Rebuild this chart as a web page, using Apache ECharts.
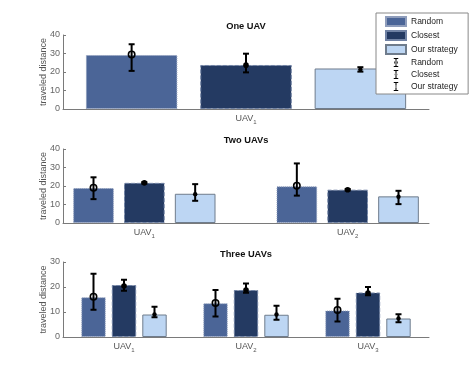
<!DOCTYPE html>
<html><head><meta charset="utf-8">
<script src="https://cdn.jsdelivr.net/npm/echarts@6/dist/echarts.min.js"></script>
<style>html,body{margin:0;padding:0;background:#fff}#c{width:474px;height:379px}</style>
</head><body><div id="c"></div>
<script>
// ---- data ----
const panelTitles = ['One UAV', 'Two UAVs', 'Three UAVs'];
const strategies = ['Random', 'Closest', 'Our strategy'];
const catBase = 'UAV';
const catSubs = ['1', '2', '3'];
const yMax = [40, 40, 30];
const yTicks = [[0, 10, 20, 30, 40], [0, 10, 20, 30, 40], [0, 10, 20, 30]];

const p1Random = [29.2];
const p1Closest = [23.8];
const p1Ours = [21.9];
const p1RandomErr = [[29.5, 20.6, 35.0]];   // [mean, low, high]
const p1ClosestErr = [[23.7, 19.8, 29.9]];
const p1OursErr = [[21.3, 20.2, 22.6]];

const p2Random = [18.9, 19.8];
const p2Closest = [21.7, 18.0];
const p2Ours = [15.8, 14.4];
const p2RandomErr = [[19.1, 12.9, 24.7], [20.2, 14.8, 32.2]];
const p2ClosestErr = [[21.7, 21.3, 22.1], [18.0, 17.6, 18.4]];
const p2OursErr = [[15.6, 12.0, 21.0], [14.2, 10.2, 17.4]];

const p3Random = [15.9, 13.5, 10.6];
const p3Closest = [20.8, 18.8, 17.8];
const p3Ours = [9.0, 8.9, 7.4];
const p3RandomErr = [[16.1, 10.9, 25.3], [13.6, 8.2, 18.8], [10.8, 6.2, 15.3]];
const p3ClosestErr = [[20.4, 18.5, 22.9], [18.8, 17.7, 21.4], [17.6, 16.7, 20.0]];
const p3OursErr = [[9.0, 7.9, 12.1], [9.0, 6.9, 12.5], [7.4, 5.9, 9.1]];

const panelBars = [[p1Random, p1Closest, p1Ours], [p2Random, p2Closest, p2Ours], [p3Random, p3Closest, p3Ours]];
const panelErrs = [[p1RandomErr, p1ClosestErr, p1OursErr], [p2RandomErr, p2ClosestErr, p2OursErr], [p3RandomErr, p3ClosestErr, p3OursErr]];

// ---- layout / style ----
const gridLeft = 63, gridWidth = 366;
const gridTops = [35, 149, 262];
const gridHeights = [74, 74, 75];
const titleTops = [22, 136, 250];
const xRanges = [[0.6, 1.4], [0.6, 2.4], [0.5, 3.5]];
const barColors = ['#4b6597', '#243a62', '#bdd6f3'];
const barBorders = [
  { borderColor: '#8f9dbb', borderWidth: 1, borderType: 'dotted' },
  { borderColor: '#7082a4', borderWidth: 1, borderType: 'dashed' },
  { borderColor: '#6f7c8c', borderWidth: 1, borderType: 'solid' }
];
const STEP = 0.25, WIDTH = 0.2;

function errRender(offsetUnits, markerType) {
  return function (params, api) {
    const x = api.value(0) + offsetUnits;
    const m = api.coord([x, api.value(1)]);
    const lo = api.coord([x, api.value(2)]);
    const hi = api.coord([x, api.value(3)]);
    const cx = m[0];
    const st = { stroke: '#000', lineWidth: 2 };
    const ch = [
      { type: 'line', shape: { x1: cx, y1: lo[1], x2: cx, y2: hi[1] }, style: st },
      { type: 'line', shape: { x1: cx - 3, y1: lo[1], x2: cx + 3, y2: lo[1] }, style: st },
      { type: 'line', shape: { x1: cx - 3, y1: hi[1], x2: cx + 3, y2: hi[1] }, style: st }
    ];
    if (markerType === 0) ch.push({ type: 'circle', shape: { cx: cx, cy: m[1], r: 3.2 }, style: { fill: 'none', stroke: '#000', lineWidth: 1.6 } });
    else if (markerType === 1) ch.push({ type: 'circle', shape: { cx: cx, cy: m[1], r: 2.8 }, style: { fill: '#000' } });
    else ch.push({ type: 'circle', shape: { cx: cx, cy: m[1], r: 2.2 }, style: { fill: '#000' } });
    return { type: 'group', children: ch };
  };
}

const grids = [], xAxes = [], yAxes = [], series = [], titles = [];
for (let p = 0; p < 3; p++) {
  grids.push({ left: gridLeft, width: gridWidth, top: gridTops[p], height: gridHeights[p] });
  const nCat = panelBars[p][0].length;
  const xs = [];
  for (let i = 0; i < nCat; i++) xs.push(i + 1);
  xAxes.push({
    type: 'value', gridIndex: p, min: xRanges[p][0], max: xRanges[p][1],
    splitLine: { show: false },
    axisLine: { show: true, lineStyle: { color: '#7a7a7a', width: 1 } },
    axisTick: { show: false },
    axisLabel: {
      customValues: xs, margin: 4, color: '#555', fontSize: 9, fontFamily: 'Liberation Sans',
      formatter: function (v) { return catBase + '{s|' + catSubs[Math.round(v) - 1] + '}'; },
      rich: { s: { fontSize: 6, color: '#555', fontFamily: 'Liberation Sans', padding: [6, 0, 0, 0] } }
    }
  });
  yAxes.push({
    type: 'value', gridIndex: p, min: 0, max: yMax[p], interval: 10,
    name: 'traveled distance', nameLocation: 'middle', nameGap: 15, nameMoveOverlap: false,
    nameTextStyle: { fontSize: 9, color: '#555', fontFamily: 'Liberation Sans' },
    splitLine: { show: false },
    axisLine: { show: true, lineStyle: { color: '#7a7a7a', width: 1 } },
    axisTick: { show: true, inside: true, length: 3, lineStyle: { color: '#7a7a7a' } },
    axisLabel: { color: '#666', fontSize: 9, margin: 3, fontFamily: 'Liberation Sans' }
  });
  titles.push({ text: panelTitles[p], left: 246, top: titleTops[p], textAlign: 'center', padding: 0,
    textStyle: { fontSize: 9.3, fontWeight: 'bold', color: '#111', fontFamily: 'Liberation Sans' } });
  const unitPx = gridWidth / (xRanges[p][1] - xRanges[p][0]);
  for (let s = 0; s < 3; s++) {
    series.push({
      type: 'bar', name: strategies[s], xAxisIndex: p, yAxisIndex: p,
      barWidth: unitPx * WIDTH, barGap: '25%',
      itemStyle: Object.assign({ color: barColors[s] }, barBorders[s]),
      data: panelBars[p][s].map(function (v, i) { return [xs[i], v]; }),
      z: 2
    });
  }
  for (let s = 0; s < 3; s++) {
    series.push({
      type: 'custom', name: strategies[s] + ' ', xAxisIndex: p, yAxisIndex: p,
      renderItem: errRender((s - 1) * STEP, s),
      itemStyle: { color: '#000' },
      encode: { x: 0, y: 1 },
      data: panelErrs[p][s].map(function (e, i) { return [xs[i], e[0], e[1], e[2]]; }),
      z: 5
    });
  }
}

const legendIcons = [
  'path://M0,0H6V1.3H0Z M0,10.7H6V12H0Z M2.3,0H3.7V12H2.3Z M5.4,6A2.4,2.4 0 1 0 0.6,6A2.4,2.4 0 1 0 5.4,6Z',
  'path://M0,0H6V1.3H0Z M0,10.7H6V12H0Z M2.3,0H3.7V12H2.3Z M4.8,6A1.8,1.8 0 1 0 1.2,6A1.8,1.8 0 1 0 4.8,6Z',
  'path://M0,0H6V1.3H0Z M0,10.7H6V12H0Z M2.3,0H3.7V12H2.3Z M4.3,6A1.3,1.3 0 1 0 1.7,6A1.3,1.3 0 1 0 4.3,6Z'
];

const option = {
  animation: false,
  backgroundColor: '#fff',
  title: titles,
  grid: grids,
  xAxis: xAxes,
  yAxis: yAxes,
  legend: {
    orient: 'vertical', left: 376, top: 13,
    padding: [3, 8, 3, 9], itemWidth: 20, itemHeight: 9, itemGap: 3,
    backgroundColor: '#fff', borderColor: '#888', borderWidth: 1, borderRadius: 0,
    textStyle: { fontSize: 8.5, color: '#222', lineHeight: 9, fontFamily: 'Liberation Sans' },
    data: strategies.map(function (s) { return { name: s, icon: 'rect' }; })
      .concat(strategies.map(function (s, i) { return { name: s + ' ', icon: legendIcons[i] }; }))
  },
  series: series
};
const chart = echarts.init(document.getElementById('c'), null, { renderer: 'canvas' });
chart.setOption(option);
</script>
</body></html>
